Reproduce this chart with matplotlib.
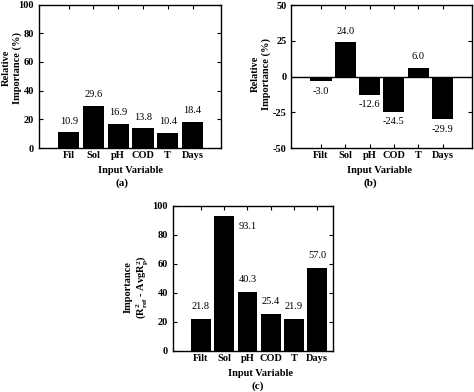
import numpy as np
import matplotlib
matplotlib.use('Agg')
import matplotlib.pyplot as plt

plt.rcParams['font.family'] = ['Liberation Serif', 'DejaVu Serif']
plt.rcParams['mathtext.fontset'] = 'custom'
plt.rcParams['mathtext.rm'] = 'Liberation Serif:bold'
plt.rcParams['mathtext.bf'] = 'Liberation Serif:bold'
plt.rcParams['mathtext.it'] = 'Liberation Serif:bold'

# дані
labels_a = ['Fil', 'Sol', 'pH', 'COD', 'T', 'Days']
labels_bc = ['Filt', 'Sol', 'pH', 'COD', 'T', 'Days']
values_a = [10.9, 29.6, 16.9, 13.8, 10.4, 18.4]
values_b = [-3.0, 24.0, -12.6, -24.5, 6.0, -29.9]
values_c = [21.8, 93.1, 40.3, 25.4, 21.9, 57.0]
pos = np.arange(1, 7)

fs = 7.5
fig = plt.figure(figsize=(4.74, 3.92), dpi=100)
ax_a = fig.add_axes([0.0823, 0.6224, 0.384, 0.366])
ax_b = fig.add_axes([0.6146, 0.6224, 0.381, 0.3646])
ax_c = fig.add_axes([0.3643, 0.1046, 0.3382, 0.3707])


def style(ax, lab, yticks):
    ax.set_xticks(pos)
    ax.set_xticklabels(lab, fontweight='bold', fontsize=fs)
    ax.set_yticks(yticks)
    ax.set_yticklabels([str(t) for t in yticks], fontweight='bold', fontsize=fs)
    ax.tick_params(direction='in', top=True, right=True, length=3, width=0.8)
    ax.tick_params(axis='x', pad=2.5)
    ax.tick_params(axis='y', pad=3.5)
    for s in ax.spines.values():
        s.set_linewidth(1.0)


def bottom_text(ax, xlab_x, letter, letter_x):
    ax.annotate('Input Variable', xy=(xlab_x, 0), xycoords='axes fraction',
                xytext=(0, -16.5), textcoords='offset points',
                ha='center', va='center', fontweight='bold', fontsize=fs)
    ax.annotate(letter, xy=(letter_x, 0), xycoords='axes fraction',
                xytext=(0, -25), textcoords='offset points',
                ha='center', va='center', fontweight='bold', fontsize=fs + 0.5)


# (a)
ax_a.bar(pos, values_a, width=0.85, color='black')
ax_a.set_xlim(-0.2, 7.15)
ax_a.set_ylim(0, 100)
style(ax_a, labels_a, [0, 20, 40, 60, 80, 100])
for p, v in zip(pos, values_a):
    ax_a.annotate(f'{v:.1f}', xy=(p, v), xytext=(0, 8), textcoords='offset points',
                  ha='center', va='center', fontsize=fs)
ax_a.text(-0.148, 0.56, 'Relative\nImportance (%)', transform=ax_a.transAxes,
          rotation=90, ha='center', va='center', fontweight='bold', fontsize=fs,
          multialignment='center')
bottom_text(ax_a, 0.5, '(a)', 0.454)

# (b)
ax_b.bar(pos, values_b, width=0.87, color='black')
ax_b.axhline(0, color='black', lw=1.0)
ax_b.set_xlim(-0.22, 7.21)
ax_b.set_ylim(-50, 50)
style(ax_b, labels_bc, [-50, -25, 0, 25, 50])
for p, v in zip(pos, values_b):
    off = 8 if v > 0 else -7.5
    ax_b.annotate(f'{v:.1f}', xy=(p, v), xytext=(0, off), textcoords='offset points',
                  ha='center', va='center', fontsize=fs)
ax_b.text(-0.167, 0.52, 'Relative\nImportance (%)', transform=ax_b.transAxes,
          rotation=90, ha='center', va='center', fontweight='bold', fontsize=fs,
          multialignment='center')
bottom_text(ax_b, 0.49, '(b)', 0.44)

# (c)
ax_c.bar(pos, values_c, width=0.85, color='black')
ax_c.set_xlim(-0.22, 6.68)
ax_c.set_ylim(0, 100)
style(ax_c, labels_bc, [0, 20, 40, 60, 80, 100])
for p, v in zip(pos, values_c):
    if v > 90:
        ax_c.annotate(f'{v:.1f}', xy=(p + 0.425, v), xytext=(3.5, -8),
                      textcoords='offset points', ha='left', va='center', fontsize=fs)
    else:
        ax_c.annotate(f'{v:.1f}', xy=(p, v), xytext=(0, 9), textcoords='offset points',
                      ha='center', va='center', fontsize=fs)
ax_c.text(-0.223, 0.44,
          'Importance\n(R$^{2}_{ref}$ - AvgR$^{2}_{p}$)',
          transform=ax_c.transAxes, rotation=90, ha='center', va='center',
          fontweight='bold', fontsize=fs, multialignment='center')
bottom_text(ax_c, 0.545, '(c)', 0.53)

fig.savefig('out.png', dpi=100)
